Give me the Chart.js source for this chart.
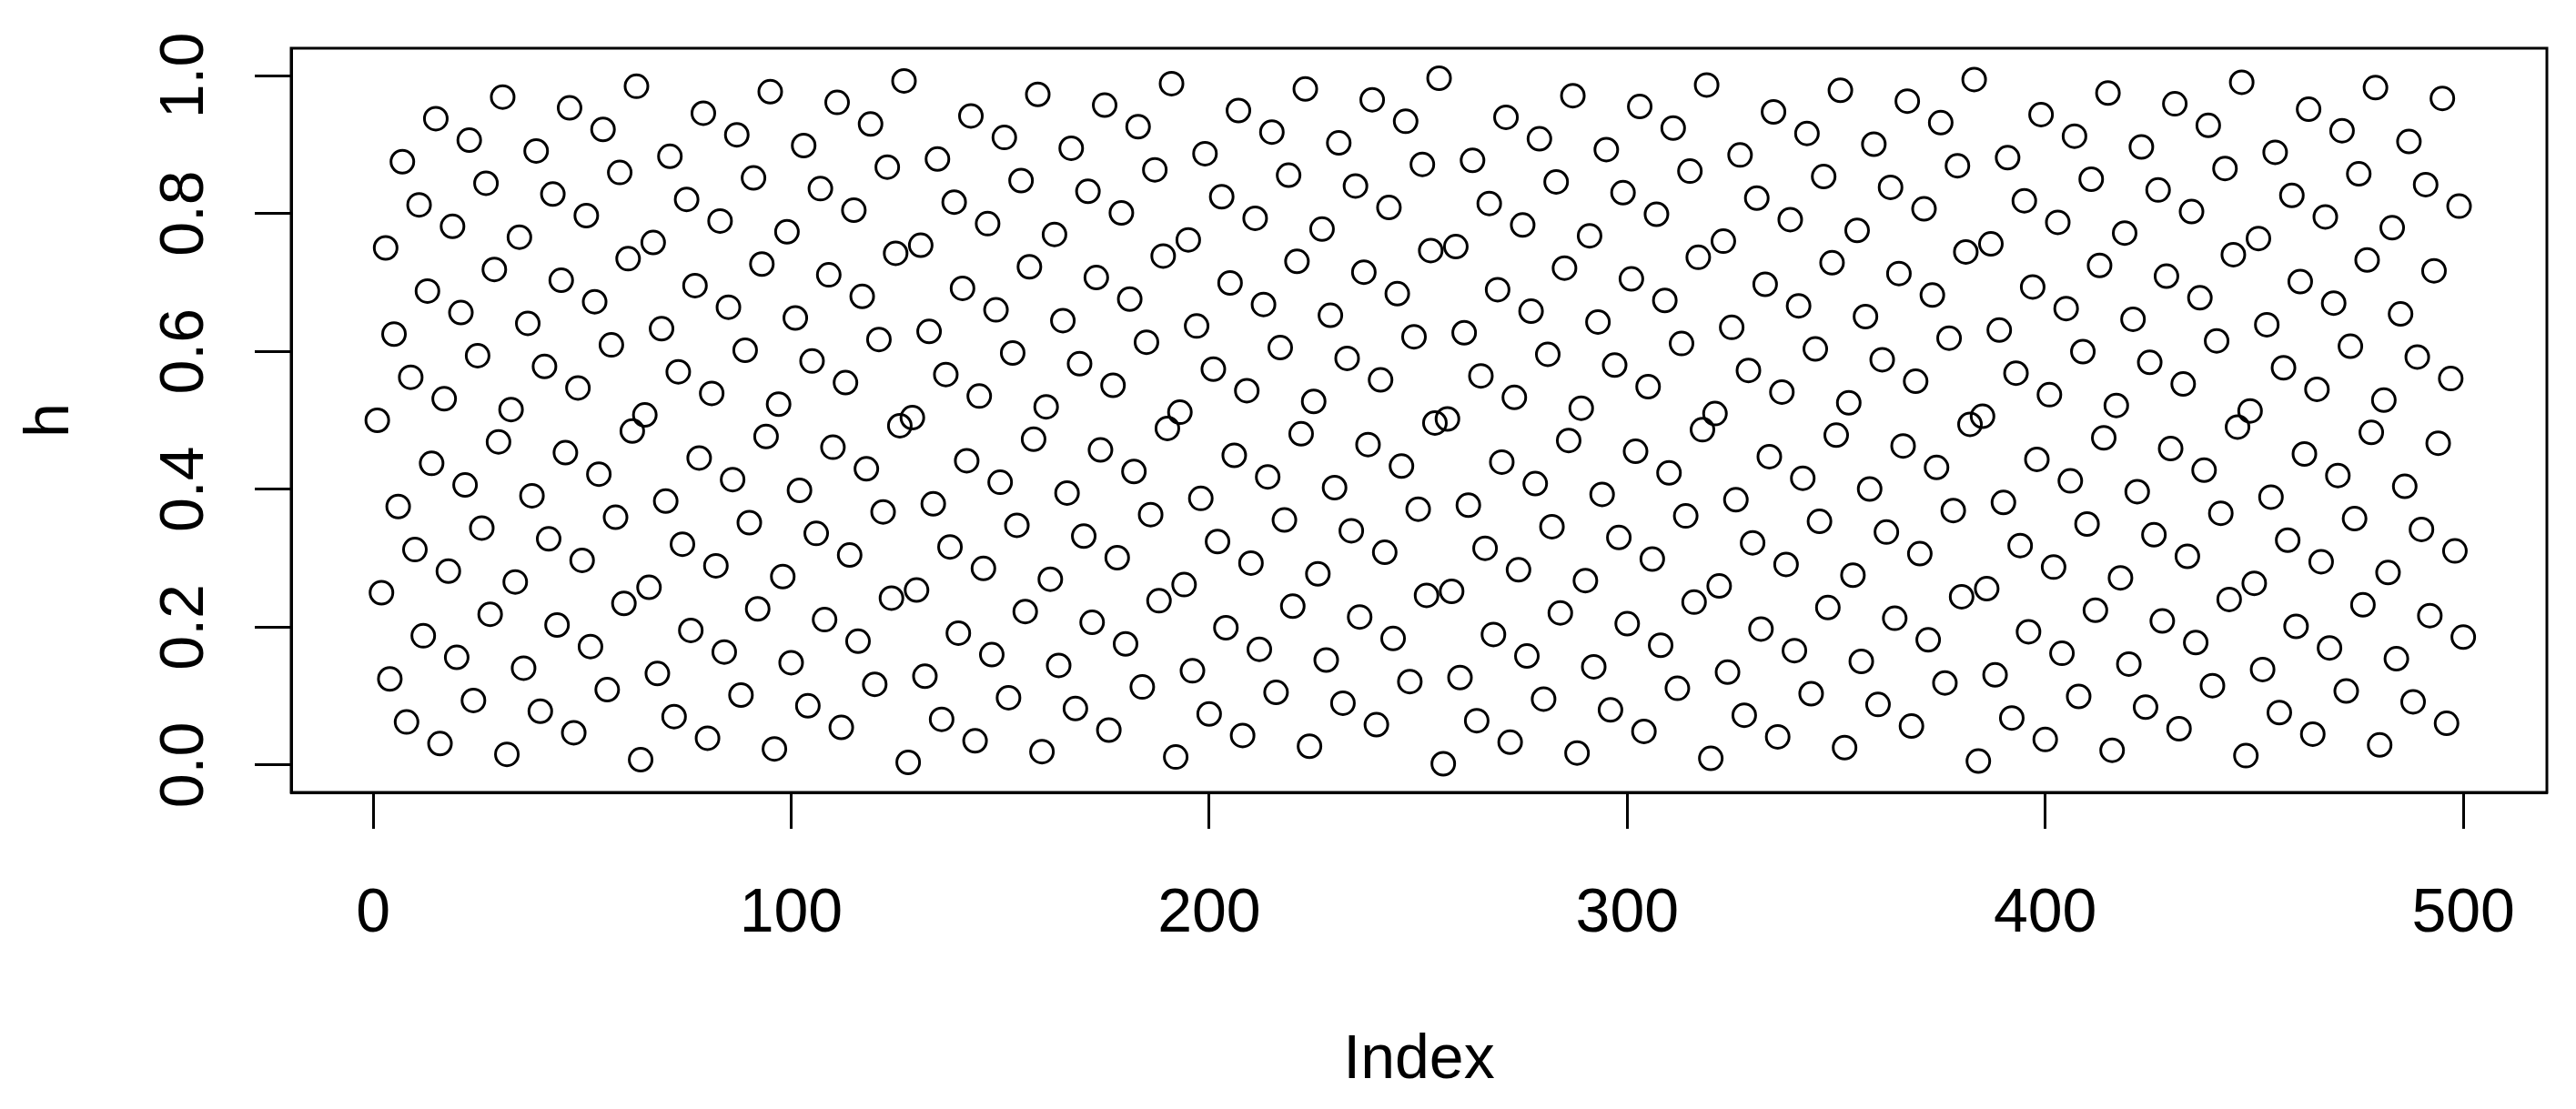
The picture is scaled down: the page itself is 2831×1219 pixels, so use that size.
<!DOCTYPE html>
<html>
<head>
<meta charset="utf-8">
<title>h vs Index</title>
<script src="https://cdn.jsdelivr.net/npm/chart.js@4.4.1/dist/chart.umd.min.js"></script>
<style>
  html, body { margin: 0; padding: 0; background: #fff; }
  #wrap { width: 2831px; height: 1219px; }
</style>
</head>
<body>
<div id="wrap"><canvas id="plot" width="2831" height="1219"></canvas></div>
<script>
// h values: every point sits on a 1/512 grid,
// so they are kept as numerators over hDenominator (index 1..500)
const hDenominator = 512;
const hNumerators = [
  256, 128, 384, 64, 320, 192, 448, 32, 288, 160, 416, 96, 352, 224, 480,
  16, 272, 144, 400, 80, 336, 208, 464, 48, 304, 176, 432, 112, 368, 240, 496,
  8, 264, 136, 392, 72, 328, 200, 456, 40, 296, 168, 424, 104, 360, 232, 488,
  24, 280, 152, 408, 88, 344, 216, 472, 56, 312, 184, 440, 120, 376, 248, 504,
  4, 260, 132, 388, 68, 324, 196, 452, 36, 292, 164, 420, 100, 356, 228, 484,
  20, 276, 148, 404, 84, 340, 212, 468, 52, 308, 180, 436, 116, 372, 244, 500,
  12, 268, 140, 396, 76, 332, 204, 460, 44, 300, 172, 428, 108, 364, 236, 492,
  28, 284, 156, 412, 92, 348, 220, 476, 60, 316, 188, 444, 124, 380, 252, 508,
  2, 258, 130, 386, 66, 322, 194, 450, 34, 290, 162, 418, 98, 354, 226, 482,
  18, 274, 146, 402, 82, 338, 210, 466, 50, 306, 178, 434, 114, 370, 242, 498,
  10, 266, 138, 394, 74, 330, 202, 458, 42, 298, 170, 426, 106, 362, 234, 490,
  26, 282, 154, 410, 90, 346, 218, 474, 58, 314, 186, 442, 122, 378, 250, 506,
  6, 262, 134, 390, 70, 326, 198, 454, 38, 294, 166, 422, 102, 358, 230, 486,
  22, 278, 150, 406, 86, 342, 214, 470, 54, 310, 182, 438, 118, 374, 246, 502,
  14, 270, 142, 398, 78, 334, 206, 462, 46, 302, 174, 430, 110, 366, 238, 494,
  30, 286, 158, 414, 94, 350, 222, 478, 62, 318, 190, 446, 126, 382, 254, 510,
  1, 257, 129, 385, 65, 321, 193, 449, 33, 289, 161, 417, 97, 353, 225, 481,
  17, 273, 145, 401, 81, 337, 209, 465, 49, 305, 177, 433, 113, 369, 241, 497,
  9, 265, 137, 393, 73, 329, 201, 457, 41, 297, 169, 425, 105, 361, 233, 489,
  25, 281, 153, 409, 89, 345, 217, 473, 57, 313, 185, 441, 121, 377, 249, 505,
  5, 261, 133, 389, 69, 325, 197, 453, 37, 293, 165, 421, 101, 357, 229, 485,
  21, 277, 149, 405, 85, 341, 213, 469, 53, 309, 181, 437, 117, 373, 245, 501,
  13, 269, 141, 397, 77, 333, 205, 461, 45, 301, 173, 429, 109, 365, 237, 493,
  29, 285, 157, 413, 93, 349, 221, 477, 61, 317, 189, 445, 125, 381, 253, 509,
  3, 259, 131, 387, 67, 323, 195, 451, 35, 291, 163, 419, 99, 355, 227, 483,
  19, 275, 147, 403, 83, 339, 211, 467, 51, 307, 179, 435, 115, 371, 243, 499,
  11, 267, 139, 395, 75, 331, 203, 459, 43, 299, 171, 427, 107, 363, 235, 491,
  27, 283, 155, 411, 91, 347, 219, 475, 59, 315, 187, 443, 123, 379, 251, 507,
  7, 263, 135, 391, 71, 327, 199, 455, 39, 295, 167, 423, 103, 359, 231, 487,
  23, 279, 151, 407, 87, 343, 215, 471, 55, 311, 183, 439, 119, 375, 247, 503,
  15, 271, 143, 399, 79, 335, 207, 463, 47, 303, 175, 431, 111, 367, 239, 495,
  31, 287, 159, 415, 95
];

const xTicks = [0, 100, 200, 300, 400, 500];
const xTickLabels = ["0", "100", "200", "300", "400", "500"];
const yTicks = [0, 0.2, 0.4, 0.6, 0.8, 1.0];
const yTickLabels = ["0.0", "0.2", "0.4", "0.6", "0.8", "1.0"];
const xRange = [-19.6, 520];
const yRange = [-0.0396, 1.0396];

const points = hNumerators.map((n, i) => ({ x: i + 1, y: n / hDenominator }));

const font = { family: "'Liberation Sans Narrow', 'Liberation Sans', Arial, sans-serif", size: 68 };

// R-style box() around the plot region
const boxPlugin = {
  id: "box",
  afterDraw(chart) {
    const { ctx, chartArea: a } = chart;
    ctx.save();
    ctx.strokeStyle = "#000";
    ctx.lineWidth = 3;
    ctx.strokeRect(a.left, a.top, a.right - a.left, a.bottom - a.top);
    ctx.restore();
  }
};

// fixed axis sizes so the plot region lands where R put it
function fixX(s) {
  s.height = 348;
  s.paddingLeft = 0;
  s.paddingRight = 0;
}
function fixY(s) {
  s.width = 320;
  s.paddingTop = 0;
  s.paddingBottom = 0;
}

new Chart(document.getElementById("plot"), {
  type: "scatter",
  data: {
    datasets: [{
      data: points,
      pointStyle: "circle",
      pointRadius: 12.5,
      pointHoverRadius: 12.5,
      borderWidth: 3,
      borderColor: "#000",
      backgroundColor: "rgba(0,0,0,0)"
    }]
  },
  options: {
    responsive: false,
    animation: false,
    devicePixelRatio: 1,
    events: [],
    layout: { padding: { top: 53, right: 32, bottom: 0, left: 0 } },
    plugins: { legend: { display: false }, tooltip: { enabled: false } },
    scales: {
      x: {
        type: "linear",
        min: xRange[0],
        max: xRange[1],
        afterBuildTicks: s => { s.ticks = xTicks.map(v => ({ value: v })); },
        afterFit: fixX,
        grid: { drawOnChartArea: false, drawTicks: true, tickLength: 40, tickWidth: 3, tickColor: "#000" },
        border: { display: true, color: "#000", width: 3 },
        ticks: {
          color: "#000", font, padding: 53, maxRotation: 0, autoSkip: false,
          callback: (v, i) => xTickLabels[i]
        },
        title: { display: true, text: "Index", color: "#000", font, padding: { top: 0, bottom: 12 } }
      },
      y: {
        type: "linear",
        min: yRange[0],
        max: yRange[1],
        afterBuildTicks: s => { s.ticks = yTicks.map(v => ({ value: v })); },
        afterFit: fixY,
        grid: { drawOnChartArea: false, drawTicks: true, tickLength: 40, tickWidth: 3, tickColor: "#000" },
        border: { display: true, color: "#000", width: 3 },
        ticks: {
          color: "#000", font, padding: 28, minRotation: 90, maxRotation: 90,
          crossAlign: "center", autoSkip: false,
          callback: (v, i) => yTickLabels[i]
        },
        title: { display: true, text: "h", color: "#000", font, padding: { top: 15, bottom: 0 } }
      }
    }
  },
  plugins: [boxPlugin]
});
</script>
</body>
</html>
